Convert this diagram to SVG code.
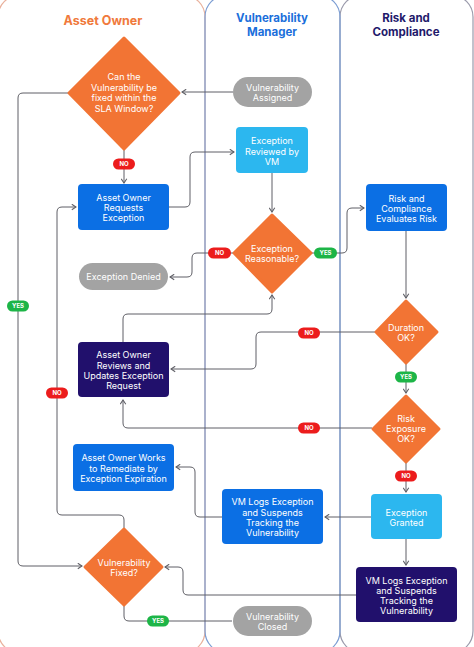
<svg xmlns="http://www.w3.org/2000/svg" width="474" height="647" viewBox="0 0 474 647">
<defs>
<style>
.lane{fill:none;stroke-width:1.2}
.title{font-family:Inter,"Liberation Sans",sans-serif;font-weight:700;font-size:12.5px;text-anchor:middle}
.title2{font-family:Inter,"Liberation Sans",sans-serif;font-weight:700;font-size:11.5px;text-anchor:middle}
.t{font-family:Inter,"Liberation Sans",sans-serif;font-size:9px;fill:#fff;text-anchor:middle}
.b{font-family:Inter,"Liberation Sans",sans-serif;font-size:6px;font-weight:700;fill:#fff;text-anchor:middle}
.blue{fill:#0b6fe4}
.lblue{fill:#2cb7ef}
.navy{fill:#21106c}
.grey{fill:#a3a3a3}
.dia{fill:#f27434;stroke:#f27434;stroke-width:3;stroke-linejoin:round}
.c{fill:none;stroke:#5f5f66;stroke-width:1}
.no{fill:#ec1c1c}
.yes{fill:#1db547}
</style>
<marker id="ah" viewBox="0 0 10 10" refX="9" refY="5" markerWidth="7" markerHeight="7" orient="auto" markerUnits="userSpaceOnUse">
<path d="M3,1 L9,5 L3,9" fill="none" stroke="#5f5f66" stroke-width="1.5"/>
</marker>
</defs>

<g id="lanes">
<rect class="lane" x="-2" y="-5" width="207" height="658" rx="22" stroke="#e9b19c"/>
<rect class="lane" x="340" y="-5" width="133" height="658" rx="22" stroke="#9a9aab"/>
<rect class="lane" x="205" y="-5" width="135" height="658" rx="22" stroke="#7b9dd3"/>
<text class="title" x="103" y="25" fill="#f07a3c">Asset Owner</text>
<text class="title2" x="272" y="22" fill="#1b6fdb">Vulnerability</text>
<text class="title2" x="272" y="36" fill="#1b6fdb">Manager</text>
<text class="title2" x="406" y="22" fill="#1f1a6b">Risk and</text>
<text class="title2" x="406" y="36" fill="#1f1a6b">Compliance</text>
</g>

<g id="connectors">
<path class="c" d="M233,92 H182" marker-end="url(#ah)"/>
<path class="c" d="M68,93 H23 Q18,93 18,98 V561 Q18,566 23,566 H82" marker-end="url(#ah)"/>
<path class="c" d="M124,150 V183" marker-end="url(#ah)"/>
<path class="c" d="M169,207 H185 Q190,207 190,202 V157 Q190,152 195,152 H234" marker-end="url(#ah)"/>
<path class="c" d="M272,173 V212" marker-end="url(#ah)"/>
<path class="c" d="M233,253 H197 Q192,253 192,258 V272 Q192,277 187,277 H170" marker-end="url(#ah)"/>
<path class="c" d="M312,253 H342 Q347,253 347,248 V213 Q347,208 352,208 H364" marker-end="url(#ah)"/>
<path class="c" d="M406,231 V298" marker-end="url(#ah)"/>
<path class="c" d="M375,332 H261 Q256,332 256,337 V364 Q256,369 251,369 H171" marker-end="url(#ah)"/>
<path class="c" d="M406,364 V393" marker-end="url(#ah)"/>
<path class="c" d="M372,428 H128 Q123,428 123,423 V400" marker-end="url(#ah)"/>
<path class="c" d="M123,342 V319 Q123,314 128,314 H267 Q272,314 272,309 V295" marker-end="url(#ah)"/>
<path class="c" d="M406,463 V492" marker-end="url(#ah)"/>
<path class="c" d="M371,517 H325" marker-end="url(#ah)"/>
<path class="c" d="M222,517 H200 Q195,517 195,512 V472 Q195,467 190,467 H176" marker-end="url(#ah)"/>
<path class="c" d="M406,539 V565" marker-end="url(#ah)"/>
<path class="c" d="M356,595 H188 Q183,595 183,590 V572 Q183,567 178,567 H165" marker-end="url(#ah)"/>
<path class="c" d="M124,528 V520 Q124,515 119,515 H62 Q57,515 57,510 V212 Q57,207 62,207 H76" marker-end="url(#ah)"/>
<path class="c" d="M124,606 V616 Q124,621 129,621 H232"/>
<g id="badges">
<rect class="yes" x="7" y="300.5" width="22" height="11" rx="5.5"/><text class="b" x="18" y="308.2">YES</text>
<rect class="no" x="113" y="158.5" width="22" height="11" rx="5.5"/><text class="b" x="124" y="166.2">NO</text>
<rect class="no" x="208" y="247.5" width="23" height="11" rx="5.5"/><text class="b" x="219.5" y="255.2">NO</text>
<rect class="yes" x="314" y="247.5" width="23" height="11" rx="5.5"/><text class="b" x="325.5" y="255.2">YES</text>
<rect class="no" x="298" y="327.5" width="22" height="11" rx="5.5"/><text class="b" x="309" y="335.2">NO</text>
<rect class="yes" x="395" y="371.5" width="22" height="11" rx="5.5"/><text class="b" x="406" y="379.2">YES</text>
<rect class="no" x="298" y="422.5" width="22" height="11" rx="5.5"/><text class="b" x="309" y="430.2">NO</text>
<rect class="no" x="46" y="387.5" width="22" height="11" rx="5.5"/><text class="b" x="57" y="395.2">NO</text>
<rect class="no" x="395" y="470.5" width="22" height="11" rx="5.5"/><text class="b" x="406" y="478.2">NO</text>
<rect class="yes" x="147" y="615.5" width="22" height="11" rx="5.5"/><text class="b" x="158" y="623.2">YES</text>
</g>
</g>

<g id="n-assigned">
<rect class="grey" x="233" y="77" width="79" height="30" rx="15"/>
<text class="t" x="272.5" y="91">Vulnerability</text>
<text class="t" x="272.5" y="101">Assigned</text>
</g>
<g id="n-canfix">
<polygon class="dia" points="124,38 179,93 124,149 69,93"/>
<text class="t" x="124" y="80">Can the</text>
<text class="t" x="124" y="90.5">Vulnerability be</text>
<text class="t" x="124" y="101">fixed within the</text>
<text class="t" x="124" y="111.5">SLA Window?</text>
</g>
<g id="n-requests">
<rect class="blue" x="78" y="184" width="91" height="46" rx="4"/>
<text class="t" x="123.5" y="201">Asset Owner</text>
<text class="t" x="123.5" y="211">Requests</text>
<text class="t" x="123.5" y="221">Exception</text>
</g>
<g id="n-reviewed">
<rect class="lblue" x="236" y="127" width="72" height="46" rx="4"/>
<text class="t" x="272" y="144">Exception</text>
<text class="t" x="272" y="154.5">Reviewed by</text>
<text class="t" x="272" y="165">VM</text>
</g>
<g id="n-reasonable">
<polygon class="dia" points="272,215 311,253 272,292 234,253"/>
<text class="t" x="272" y="252">Exception</text>
<text class="t" x="272" y="262">Reasonable?</text>
</g>
<g id="n-denied">
<rect class="grey" x="79" y="263" width="89" height="27" rx="13.5"/>
<text class="t" x="123.5" y="280">Exception Denied</text>
</g>
<g id="n-evaluates">
<rect class="blue" x="366" y="184" width="81" height="47" rx="4"/>
<text class="t" x="406.5" y="202">Risk and</text>
<text class="t" x="406.5" y="212">Compliance</text>
<text class="t" x="406.5" y="222">Evaluates Risk</text>
</g>
<g id="n-duration">
<polygon class="dia" points="406,301 437,332 406,363 376,332"/>
<text class="t" x="406" y="331">Duration</text>
<text class="t" x="406" y="341">OK?</text>
</g>
<g id="n-reviews">
<rect class="navy" x="78" y="342" width="91" height="55" rx="4"/>
<text class="t" x="123.5" y="358">Asset Owner</text>
<text class="t" x="123.5" y="368.5">Reviews and</text>
<text class="t" x="123.5" y="379">Updates Exception</text>
<text class="t" x="123.5" y="389">Request</text>
</g>
<g id="n-exposure">
<polygon class="dia" points="406,396 439,429 406,462 373,429"/>
<text class="t" x="406" y="422">Risk</text>
<text class="t" x="406" y="432">Exposure</text>
<text class="t" x="406" y="442">OK?</text>
</g>
<g id="n-works">
<rect class="blue" x="73" y="444" width="101" height="47" rx="4"/>
<text class="t" x="123.5" y="461">Asset Owner Works</text>
<text class="t" x="123.5" y="471.5">to Remediate by</text>
<text class="t" x="123.5" y="482">Exception Expiration</text>
</g>
<g id="n-vmlogs1">
<rect class="blue" x="222" y="489" width="101" height="55" rx="4"/>
<text class="t" x="272.5" y="505">VM Logs Exception</text>
<text class="t" x="272.5" y="515.5">and Suspends</text>
<text class="t" x="272.5" y="526">Tracking the</text>
<text class="t" x="272.5" y="536">Vulnerability</text>
</g>
<g id="n-granted">
<rect class="lblue" x="371" y="494" width="71" height="45" rx="4"/>
<text class="t" x="406.5" y="516">Exception</text>
<text class="t" x="406.5" y="526">Granted</text>
</g>
<g id="n-vmlogs2">
<rect class="navy" x="356" y="567" width="101" height="55" rx="4"/>
<text class="t" x="406.5" y="584">VM Logs Exception</text>
<text class="t" x="406.5" y="594">and Suspends</text>
<text class="t" x="406.5" y="604">Tracking the</text>
<text class="t" x="406.5" y="614">Vulnerability</text>
</g>
<g id="n-fixed">
<polygon class="dia" points="124,529 162,567 124,605 85,567"/>
<text class="t" x="124" y="566">Vulnerability</text>
<text class="t" x="124" y="576">Fixed?</text>
</g>
<g id="n-closed">
<rect class="grey" x="233" y="606" width="79" height="30" rx="15"/>
<text class="t" x="272.5" y="620">Vulnerability</text>
<text class="t" x="272.5" y="630">Closed</text>
</g>
</svg>
